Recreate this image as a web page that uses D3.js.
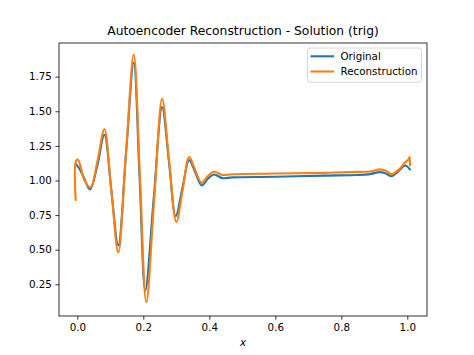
<!DOCTYPE html>
<html><head><meta charset="utf-8">
<script src="https://cdn.jsdelivr.net/npm/d3@7"></script>
<style>body{margin:0;background:#fff}svg{display:block;font-family:"DejaVu Sans",sans-serif}</style>
</head><body><svg id="c" width="474" height="355"></svg>
<script>
const title = "Autoencoder Reconstruction - Solution (trig)";
const xLabel = "x";
const seriesNames = ["Original", "Reconstruction"];
const seriesColors = ["#1f77b4", "#ff7f0e"];
const xTicks = [0.0, 0.2, 0.4, 0.6, 0.8, 1.0];
const yTicks = [0.25, 0.50, 0.75, 1.00, 1.25, 1.50, 1.75];

const origX = [-0.005,0.005,0.02,0.0385,0.06,0.082,0.103,0.124,0.1475,0.171,0.1885,0.206,0.2315,0.257,0.2775,0.298,0.3185,0.339,0.358,0.377,0.395,0.414,0.44,0.47,0.6,0.75,0.85,0.887,0.917,0.935,0.953,0.975,0.993,1.008];
const origY = [1.12,1.09,1.02,0.935,1.1,1.33,0.93,0.532,1.19,1.85,1.03,0.205,0.87,1.53,1.14,0.742,0.945,1.147,1.055,0.964,1.01,1.043,1.017,1.022,1.027,1.035,1.04,1.046,1.06,1.05,1.031,1.07,1.108,1.08];

const reconX = [-0.005,-0.004,0.002,0.01,0.022,0.04,0.061,0.082,0.103,0.124,0.1475,0.171,0.19,0.209,0.233,0.257,0.278,0.30,0.32,0.339,0.358,0.377,0.395,0.414,0.44,0.47,0.6,0.75,0.85,0.887,0.917,0.935,0.953,0.975,0.993,1.003,1.007,1.008];
const reconY = [0.86,1.14,1.15,1.10,1.0,0.95,1.14,1.37,0.93,0.48,1.2,1.91,1.02,0.12,0.86,1.59,1.15,0.70,0.94,1.17,1.07,0.983,1.03,1.063,1.04,1.045,1.05,1.055,1.062,1.065,1.08,1.07,1.046,1.08,1.13,1.15,1.17,1.11];

const svg = d3.select("#c");
const L = 59, R = 427, T = 43, B = 316;
const x = d3.scaleLinear().domain([-0.0555, 1.0597]).range([L, R]);
const y = d3.scaleLinear().domain([0.021, 1.993]).range([B, T]);

const xa = svg.append("g").attr("transform", `translate(0,${B})`)
  .call(d3.axisBottom(x).tickValues(xTicks).tickFormat(d3.format(".1f")).tickSize(3.6).tickPadding(3.6));
const ya = svg.append("g").attr("transform", `translate(${L},0)`)
  .call(d3.axisLeft(y).tickValues(yTicks).tickFormat(d3.format(".2f")).tickSize(3.6).tickPadding(3.6));
[xa, ya].forEach(g => {
  g.select(".domain").remove();
  g.selectAll("line").attr("stroke", "#000").attr("stroke-width", 0.8);
  g.selectAll("text").attr("font-family", "DejaVu Sans").attr("font-size", 10.3).attr("fill", "#000");
});

svg.append("clipPath").attr("id", "cp").append("rect")
  .attr("x", L).attr("y", T).attr("width", R - L).attr("height", B - T);

const line = d3.line().x(d => x(d[0])).y(d => y(d[1])).curve(d3.curveCatmullRom.alpha(0.5));
const data = [d3.zip(origX, origY), d3.zip(reconX, reconY)];
data.forEach((d, i) => {
  svg.append("path").attr("d", line(d)).attr("fill", "none")
    .attr("stroke", seriesColors[i]).attr("stroke-width", 2.1)
    .attr("stroke-linejoin", "round").attr("stroke-linecap", "square")
    .attr("clip-path", "url(#cp)");
});

svg.append("rect").attr("x", L).attr("y", T).attr("width", R - L).attr("height", B - T)
  .attr("fill", "none").attr("stroke", "#000").attr("stroke-width", 0.8);

svg.append("text").attr("x", (L + R) / 2).attr("y", T - 8).attr("text-anchor", "middle")
  .attr("font-size", 12.3).attr("fill", "#000").text(title);
svg.append("text").attr("x", (L + R) / 2).attr("y", 346).attr("text-anchor", "middle")
  .attr("font-size", 10.3).attr("font-style", "italic").attr("fill", "#000").text(xLabel);

// legend
const lg = svg.append("g");
lg.append("rect").attr("x", 307.5).attr("y", 48).attr("width", 114).attr("height", 34.3)
  .attr("rx", 2.5).attr("fill", "#fff").attr("fill-opacity", 0.8).attr("stroke", "#ccc").attr("stroke-width", 0.8);
seriesNames.forEach((n, i) => {
  const yy = 56.3 + i * 15.2;
  lg.append("line").attr("x1", 310.5).attr("x2", 334).attr("y1", yy).attr("y2", yy)
    .attr("stroke", seriesColors[i]).attr("stroke-width", 2.1);
  lg.append("text").attr("x", 340.5).attr("y", yy + 3.8).attr("font-size", 10.3).attr("fill", "#000").text(n);
});
</script></body></html>
